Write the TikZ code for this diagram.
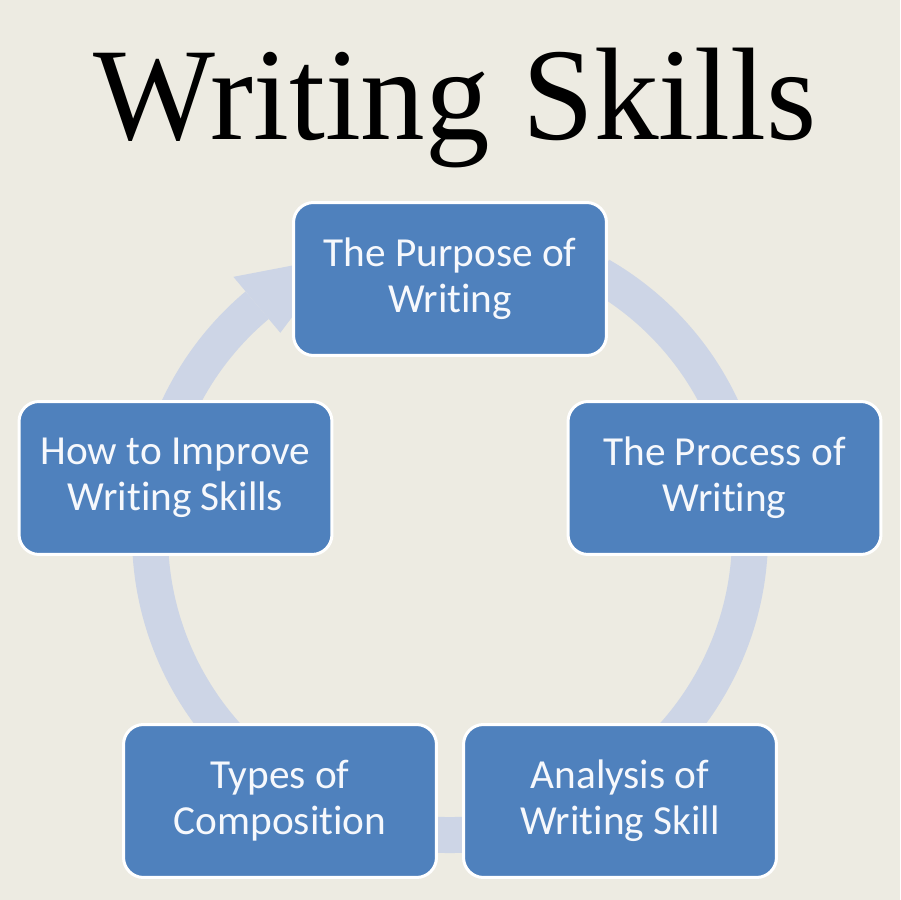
\documentclass[tikz,border=0pt]{standalone}
\usepackage{fontspec}
\setmainfont{Liberation Serif}
\newfontfamily\boxfont[Ligatures=NoCommon]{Carlito}
\definecolor{bgc}{RGB}{237,235,226}
\definecolor{ringc}{RGB}{205,213,230}
\definecolor{boxc}{RGB}{79,129,189}
\definecolor{txtc}{RGB}{246,248,252}
\begin{document}
\begin{tikzpicture}[x=0.02cm,y=0.02cm,
  stepbox/.style={rectangle, rounded corners=0.4cm, fill=boxc, draw=white, line width=0.06cm,
    minimum width=6.26cm, minimum height=3.06cm, align=center, text=txtc,
    font=\boxfont\fontsize{23.5}{26}\selectfont, inner sep=0pt},
  ringline/.style={draw=ringc, line width=0.72cm},
  title/.style={font=\fontsize{75}{80}\selectfont, anchor=base, inner sep=0pt}]
\fill[bgc] (0,0) rectangle (900,900);
\useasboundingbox (0,0) rectangle (900,900);
\coordinate (c) at (450,365);
% ring
\draw[ringline] ([shift={(60:300)}]c) arc[start angle=60, end angle=-230, radius=300];
\fill[ringc] ([shift={(130:264)}]c) -- ([shift={(130:337)}]c) -- ([shift={(112:300)}]c) -- cycle;
% title
\node[title, xscale=0.98] (t) at (455,760) {Writing Skills};
% boxes
\node[stepbox] (p) at (450,621) {The Purpose of\\Writing};
\node[stepbox] (r) at (724.5,422) {The Process of\\Writing};
\node[stepbox] (a) at (620,99) {Analysis of\\Writing Skill};
\node[stepbox] (ty) at (280,99) {Types of\\Composition};
\node[stepbox] (h) at (175.5,422) {How to Improve\\Writing Skills};
\end{tikzpicture}
\end{document}
